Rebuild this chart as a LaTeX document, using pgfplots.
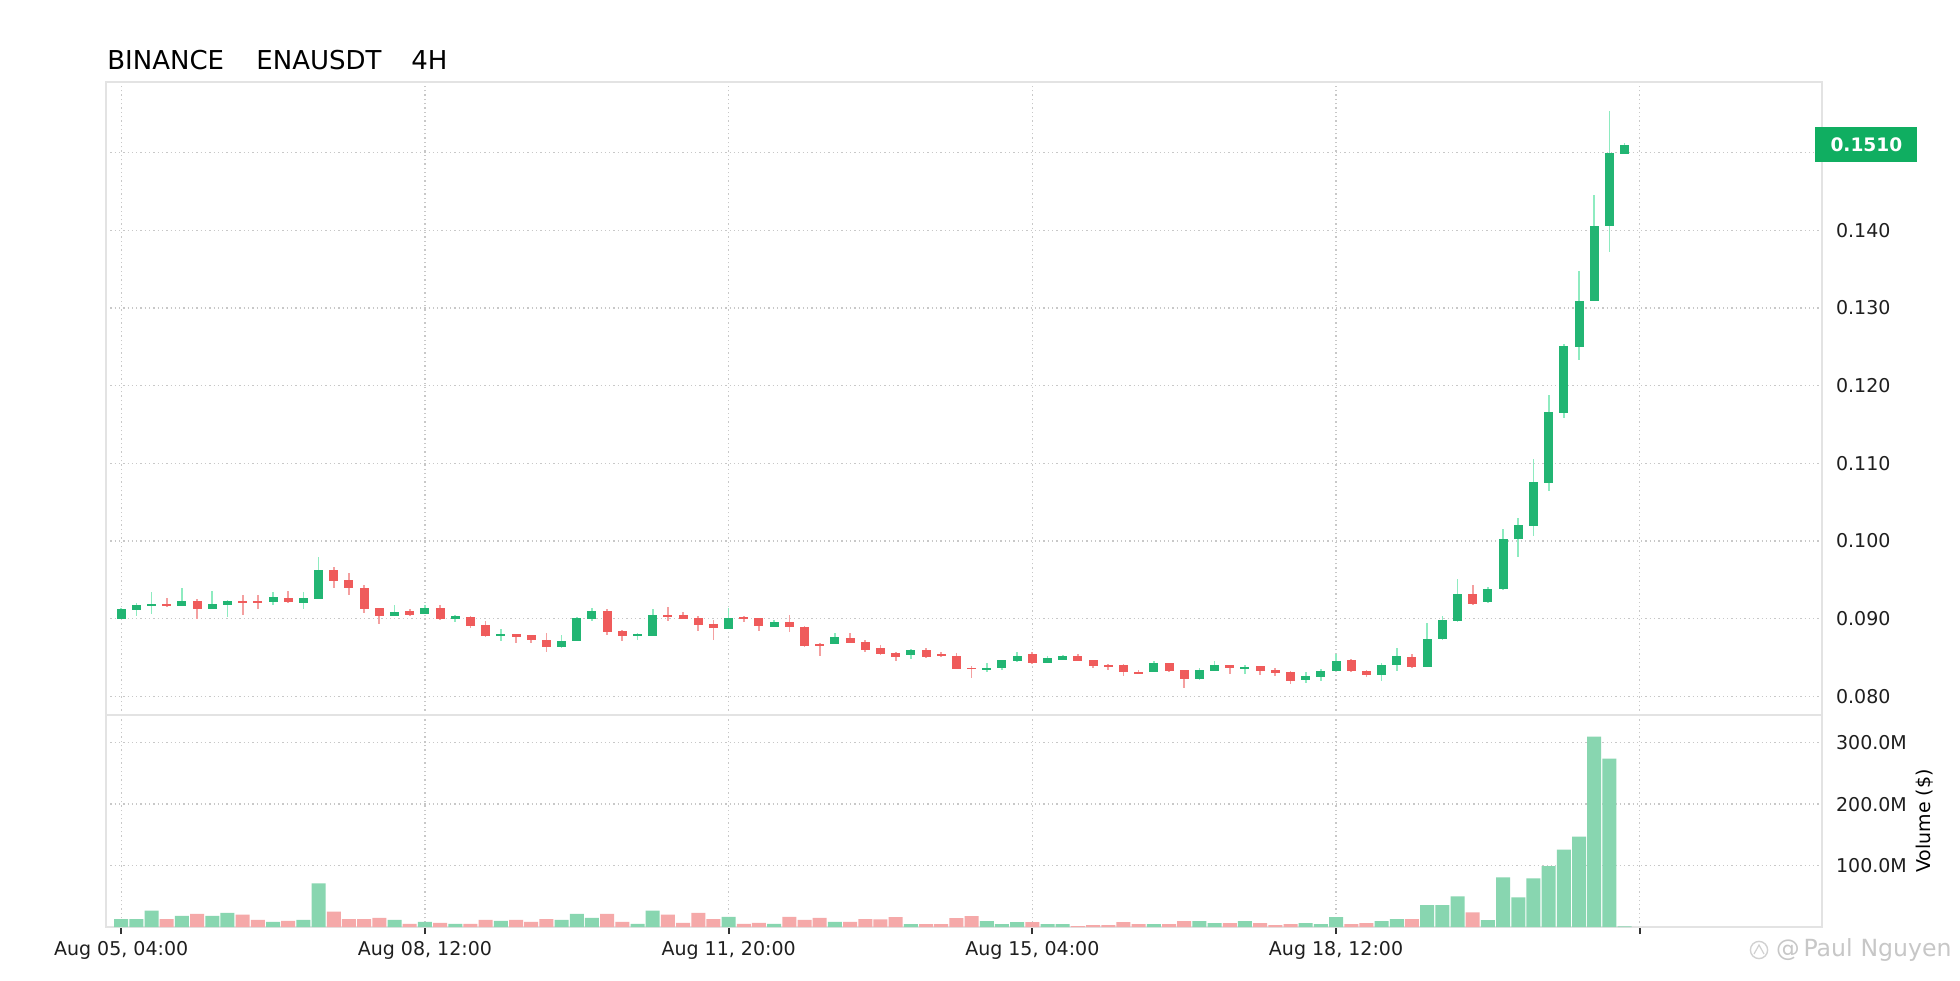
\documentclass[border=0pt]{standalone}
\usepackage{fontspec}
\setmainfont{DejaVu Sans}
\usepackage{pgfplots}
\pgfplotsset{compat=1.18}
\usepackage{pgfplotstable}

\definecolor{upc}{HTML}{22B573}
\definecolor{dnc}{HTML}{EF5B5B}
\definecolor{upw}{HTML}{8EEBC0}
\definecolor{dnw}{HTML}{F4A0A0}
\definecolor{upv}{HTML}{88D6B0}
\definecolor{dnv}{HTML}{F5A9A9}
\definecolor{gridc}{HTML}{C8C8C8}
\definecolor{framec}{HTML}{E3E3E3}
\definecolor{tagc}{HTML}{10AE61}

% rising candles: index, open, high, low, close, volume (millions of $)
\pgfplotstableread{
i o h l c v
0 0.0900 0.0914 0.0900 0.0913 13
1 0.0911 0.0920 0.0903 0.0917 13
2 0.0917 0.0934 0.0906 0.0919 26.5
4 0.0916 0.0940 0.0916 0.0923 18
6 0.0913 0.0936 0.0912 0.0919 18
7 0.0918 0.0924 0.0902 0.0923 23
10 0.0921 0.0935 0.0918 0.0928 8.3
12 0.0920 0.0935 0.0913 0.0926 11.6
13 0.0925 0.0980 0.0925 0.0963 71
18 0.0903 0.0918 0.0903 0.0909 11.6
20 0.0906 0.0917 0.0906 0.0914 8.3
22 0.0900 0.0905 0.0896 0.0903 5
25 0.0878 0.0887 0.0871 0.0880 10
29 0.0864 0.0879 0.0862 0.0871 11.6
30 0.0871 0.0902 0.0871 0.0901 21.5
31 0.0900 0.0914 0.0897 0.0910 15
34 0.0878 0.0882 0.0873 0.0880 5
35 0.0878 0.0913 0.0878 0.0905 26.5
40 0.0887 0.0914 0.0887 0.0901 16.6
43 0.0889 0.0898 0.0889 0.0896 5
47 0.0867 0.0881 0.0867 0.0877 8.3
52 0.0853 0.0861 0.0848 0.0860 4.8
57 0.0834 0.0843 0.0832 0.0837 9.7
58 0.0836 0.0847 0.0834 0.0847 4.8
59 0.0846 0.0857 0.0844 0.0852 8
61 0.0843 0.0852 0.0843 0.0849 4.8
62 0.0847 0.0853 0.0847 0.0852 4.8
68 0.0831 0.0845 0.0831 0.0843 4.8
71 0.0822 0.0837 0.0821 0.0834 9.7
72 0.0833 0.0845 0.0833 0.0841 6.5
74 0.0836 0.0840 0.0829 0.0838 9.7
78 0.0821 0.0831 0.0817 0.0826 6.5
79 0.0825 0.0835 0.0820 0.0833 4.8
80 0.0833 0.0854 0.0833 0.0845 16
83 0.0827 0.0843 0.0820 0.0841 9.7
84 0.0841 0.0862 0.0833 0.0852 12.9
86 0.0838 0.0894 0.0838 0.0874 35.5
87 0.0874 0.0904 0.0873 0.0898 35.5
88 0.0897 0.0951 0.0896 0.0932 50
90 0.0921 0.0941 0.0920 0.0938 11.3
91 0.0938 0.1016 0.0937 0.1003 80.6
92 0.1002 0.1030 0.0979 0.1020 48.4
93 0.1019 0.1105 0.1006 0.1076 79
94 0.1075 0.1188 0.1065 0.1166 99
95 0.1165 0.1254 0.1159 0.1251 126
96 0.1250 0.1348 0.1233 0.1309 147
97 0.1309 0.1446 0.1309 0.1405 310
98 0.1405 0.1554 0.1372 0.1500 274
99 0.1498 0.1512 0.1498 0.1510 1
}\uptable

% falling candles
\pgfplotstableread{
i o h l c v
3 0.0919 0.0927 0.0915 0.0917 13
5 0.0923 0.0925 0.0899 0.0913 21.5
8 0.0923 0.0931 0.0905 0.0921 20
9 0.0923 0.0931 0.0912 0.0921 11.6
11 0.0926 0.0936 0.0920 0.0922 10
14 0.0963 0.0967 0.0940 0.0949 25
15 0.0950 0.0959 0.0930 0.0939 13
16 0.0940 0.0943 0.0907 0.0913 13
17 0.0914 0.0914 0.0893 0.0904 15
19 0.0910 0.0913 0.0904 0.0905 5
21 0.0914 0.0918 0.0898 0.0900 6.6
23 0.0902 0.0904 0.0888 0.0891 5
24 0.0892 0.0897 0.0876 0.0878 11.6
26 0.0880 0.0880 0.0869 0.0877 11.6
27 0.0879 0.0879 0.0869 0.0872 8.3
28 0.0873 0.0882 0.0857 0.0864 13
32 0.0910 0.0913 0.0879 0.0883 21.5
33 0.0884 0.0886 0.0871 0.0878 8.3
36 0.0905 0.0915 0.0897 0.0903 20
37 0.0905 0.0909 0.0900 0.0900 6.6
38 0.0901 0.0903 0.0884 0.0892 23
39 0.0893 0.0898 0.0873 0.0888 13
41 0.0902 0.0904 0.0896 0.0900 5
42 0.0901 0.0901 0.0884 0.0890 6.6
44 0.0896 0.0905 0.0883 0.0889 16.6
45 0.0889 0.0891 0.0863 0.0865 11.6
46 0.0867 0.0869 0.0852 0.0866 15
48 0.0875 0.0882 0.0869 0.0869 8.3
49 0.0870 0.0872 0.0857 0.0860 13
50 0.0862 0.0866 0.0853 0.0855 12.5
51 0.0856 0.0857 0.0845 0.0851 16
53 0.0860 0.0862 0.0850 0.0851 4.8
54 0.0854 0.0857 0.0851 0.0852 4.8
55 0.0852 0.0856 0.0835 0.0835 14.5
56 0.0837 0.0839 0.0823 0.0835 17.7
60 0.0854 0.0857 0.0842 0.0843 8
63 0.0852 0.0855 0.0845 0.0846 1.6
64 0.0847 0.0847 0.0837 0.0839 3.2
65 0.0840 0.0842 0.0834 0.0838 3.2
66 0.0840 0.0842 0.0826 0.0831 8
67 0.0831 0.0834 0.0829 0.0829 4.8
69 0.0843 0.0843 0.0832 0.0833 4.8
70 0.0834 0.0834 0.0811 0.0823 9.7
73 0.0841 0.0841 0.0829 0.0836 6.5
75 0.0839 0.0839 0.0827 0.0833 6.5
76 0.0834 0.0837 0.0826 0.0830 3.2
77 0.0832 0.0833 0.0816 0.0820 4.8
81 0.0847 0.0848 0.0832 0.0833 4.8
82 0.0833 0.0834 0.0825 0.0827 6.5
85 0.0851 0.0855 0.0836 0.0838 12.9
89 0.0932 0.0944 0.0918 0.0919 24
}\dntable

\pgfplotsset{
  panel/.style={
    scale only axis, width=858pt,
    xmin=-1, xmax=112,
    axis line style={framec, line width=0.8pt},
    grid=major,
    major grid style={gridc, line width=0.65pt, dash pattern=on 0.65pt off 1.5pt},
    xtick={0,20,40,60,80,100},
    yticklabel pos=right,
    ytick pos=right,
    tick align=outside,
    major tick length=3.5pt,
    ytick style={draw=none},
    tick label style={font=\fontsize{9.5}{11}\selectfont, text=black!88},
    clip mode=individual,
  },
  wick/.style={draw=none, mark=none, forget plot,
    error bars/.cd, y dir=both, y explicit, error mark=none,
    error bar style={draw=#1, line width=0.85pt}},
  body/.style={draw=none, mark=none, forget plot,
    error bars/.cd, y dir=both, y explicit, error mark=none,
    error bar style={draw=#1, line width=4.5pt}},
}

\begin{document}
\begin{tikzpicture}[x=1pt,y=1pt]
\fill[white] (0,0) rectangle (980,490);
\useasboundingbox (0,0) rectangle (980,490);

% ---------------- price panel ----------------
\begin{axis}[panel,
  at={(53pt,132.5pt)}, anchor=south west,
  height=316.5pt,
  ymin=0.0776, ymax=0.1591,
  ytick={0.08,0.09,0.10,0.11,0.12,0.13,0.14,0.15},
  yticklabels={0.080,0.090,0.100,0.110,0.120,0.130,0.140,{}},
  xticklabels={},
  xtick style={draw=none},
]
\addplot[wick=upw] table[x=i, y expr={(\thisrow{h}+\thisrow{l})/2},
  y error expr={(\thisrow{h}-\thisrow{l})/2}] {\uptable};
\addplot[wick=dnw] table[x=i, y expr={(\thisrow{h}+\thisrow{l})/2},
  y error expr={(\thisrow{h}-\thisrow{l})/2}] {\dntable};
\addplot[body=upc] table[x=i, y expr={(\thisrow{o}+\thisrow{c})/2},
  y error expr={abs(\thisrow{c}-\thisrow{o})/2}] {\uptable};
\addplot[body=dnc] table[x=i, y expr={(\thisrow{o}+\thisrow{c})/2},
  y error expr={abs(\thisrow{c}-\thisrow{o})/2}] {\dntable};
\node[fill=tagc, text=white, font=\fontsize{9.3}{11}\bfseries\selectfont,
  minimum width=51pt, minimum height=17.5pt, inner sep=0pt, anchor=west,
  xshift=-3.5pt] at (axis cs:112,0.1510) {0.1510};
\end{axis}

% ---------------- volume panel ----------------
\begin{axis}[panel,
  at={(53pt,26.5pt)}, anchor=south west,
  height=106pt,
  ymin=0, ymax=345,
  ytick={100,200,300},
  yticklabels={100.0M,200.0M,300.0M},
  xticklabels={{Aug 05, 04:00},{Aug 08, 12:00},{Aug 11, 20:00},{Aug 15, 04:00},{Aug 18, 12:00},{}},
  xtick pos=bottom,
  xtick style={draw=black!80, line width=0.9pt},
  ylabel={Volume (\$)},
  every axis y label/.style={at={(rel axis cs:1,0.5)}, xshift=51.5pt,
    rotate=90, anchor=center, font=\fontsize{9.5}{11}\selectfont},
]
\addplot[ybar, bar width=7pt, bar shift=0pt, fill=upv, draw=none, forget plot]
  table[x=i, y=v] {\uptable};
\addplot[ybar, bar width=7pt, bar shift=0pt, fill=dnv, draw=none, forget plot]
  table[x=i, y=v] {\dntable};
\end{axis}

% ---------------- title and watermark ----------------
\begin{scope}[font=\fontsize{13}{15}\selectfont]
\node[anchor=base west, inner sep=0pt] at (53.5,455.3) {BINANCE};
\node[anchor=base west, inner sep=0pt] at (128,455.3) {ENAUSDT};
\node[anchor=base west, inner sep=0pt] at (205.5,455.3) {4H};
\end{scope}
\draw[black!18, line width=0.7pt] (879.5,15) circle (4.3pt);
\draw[black!18, line width=0.6pt] (877,13) -- (879.5,17.5) -- (882,13);
\node[anchor=east, inner sep=0pt, text=black!22,
  font=\fontsize{11.8}{13}\selectfont] at (976,15) {@\,Paul\,\,Nguyen};
\end{tikzpicture}
\end{document}
